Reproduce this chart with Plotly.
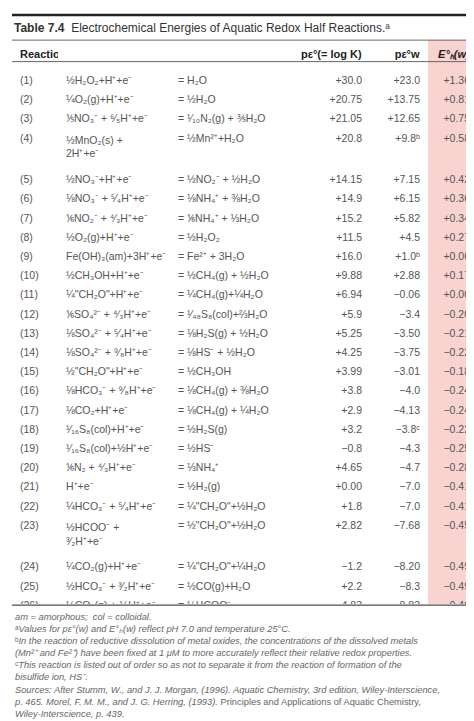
import plotly.graph_objects as go

nums = [f"({i})" for i in range(1, 28)]
lhs = ["½H₂O₂+H⁺+e⁻", "¼O₂(g)+H⁺+e⁻", "⅕NO₃⁻ + ⁶⁄₅H⁺+e⁻", "½MnO₂(s) + 2H⁺+e⁻",
       "½NO₃⁻+H⁺+e⁻", "⅛NO₃⁻ + ⁵⁄₄H⁺+e⁻", "⅙NO₂⁻ + ⁴⁄₃H⁺+e⁻", "½O₂(g)+H⁺+e⁻",
       "Fe(OH)₃(am)+3H⁺+e⁻", "½CH₃OH+H⁺+e⁻", "¼\"CH₂O\"+H⁺+e⁻", "⅙SO₄²⁻ + ⁴⁄₃H⁺+e⁻",
       "⅛SO₄²⁻ + ⁵⁄₄H⁺+e⁻", "⅛SO₄²⁻ + ⁹⁄₈H⁺+e⁻", "½\"CH₂O\"+H⁺+e⁻", "⅛HCO₃⁻ + ⁹⁄₈H⁺+e⁻",
       "⅛CO₂+H⁺+e⁻", "¹⁄₁₆S₈(col)+H⁺+e⁻", "¹⁄₁₆S₈(col)+½H⁺+e⁻", "⅙N₂ + ⁴⁄₃H⁺+e⁻",
       "H⁺+e⁻", "¼HCO₃⁻ + ⁵⁄₄H⁺+e⁻", "½HCOO⁻ + ³⁄₂H⁺+e⁻", "¼CO₂(g)+H⁺+e⁻",
       "½HCO₃⁻ + ³⁄₂H⁺+e⁻", "½CO₂(g) + ½H⁺+e⁻", "½CO₂(g)+H⁺+e⁻"]
rhs = ["= H₂O", "= ½H₂O", "= ¹⁄₁₀N₂(g) + ⅗H₂O", "= ½Mn²⁺+H₂O",
       "= ½NO₂⁻ + ½H₂O", "= ⅛NH₄⁺ + ⅜H₂O", "= ⅙NH₄⁺ + ⅓H₂O", "= ½H₂O₂",
       "= Fe²⁺ + 3H₂O", "= ½CH₄(g) + ½H₂O", "= ¼CH₄(g)+¼H₂O", "= ¹⁄₄₈S₈(col)+⅔H₂O",
       "= ⅛H₂S(g) + ½H₂O", "= ⅛HS⁻ + ½H₂O", "= ½CH₃OH", "= ⅛CH₄(g) + ⅜H₂O",
       "= ⅛CH₄(g) + ¼H₂O", "= ½H₂S(g)", "= ½HS⁻", "= ⅓NH₄⁺",
       "= ½H₂(g)", "= ¼\"CH₂O\"+½H₂O", "= ½\"CH₂O\"+½H₂O", "= ¼\"CH₂O\"+¼H₂O",
       "= ½CO(g)+H₂O", "= ½HCOO⁻", "= ½CO(g)+½H₂O"]
pe0 = ["+30.0", "+20.75", "+21.05", "+20.8", "+14.15", "+14.9", "+15.2", "+11.5", "+16.0",
       "+9.88", "+6.94", "+5.9", "+5.25", "+4.25", "+3.99", "+3.8", "+2.9", "+3.2", "−0.8",
       "+4.65", "+0.00", "+1.8", "+2.82", "−1.2", "+2.2", "−4.83", "−1.7"]
pew = ["+23.0", "+13.75", "+12.65", "+9.8ᵇ", "+7.15", "+6.15", "+5.82", "+4.5",
       "+1.0ᵇ", "+2.88", "−0.06", "−3.4", "−3.50", "−3.75", "−3.01", "−4.0", "−4.13",
       "−3.8ᶜ", "−4.3", "−4.7", "−7.0", "−7.0", "−7.68", "−8.20", "−8.3", "−8.83", "−8.7"]
eh = ["+1.36", "+0.81", "+0.75", "+0.58", "+0.42", "+0.36", "+0.34", "+0.27", "+0.06",
      "+0.17", "+0.00", "−0.20", "−0.21", "−0.22", "−0.18", "−0.24", "−0.24", "−0.22", "−0.25",
      "−0.28", "−0.41", "−0.41", "−0.45", "−0.49", "−0.49", "−0.49", "−.051"]
headers = ["<b>Reaction</b>", "", "", "<b>pε°(= log K)</b>", "<b>pε°ᵥᵥ</b>",
           "<b><i>E°ₕ(w)</i></b>"]
headers[4] = "<b>pε°w</b>"

pink = "#f9d3d0"
white = "white"
tc = "#555555"
fig = go.Figure(go.Table(
    columnwidth=[46, 112, 120, 80, 58, 50],
    header=dict(values=headers, align=["left", "left", "left", "right", "right", "right"],
                fill_color=[white, white, white, white, white, pink],
                line_color=[white]*5 + [pink], height=22,
                font=dict(family="Liberation Sans, Arial", size=11, color="#222")),
    cells=dict(values=[nums, lhs, rhs, pe0, pew, eh],
               align=["left", "left", "left", "right", "right", "right"],
               fill_color=[white, white, white, white, white, pink],
               line_color=[white]*5 + [pink], height=19.2,
               font=dict(family="Liberation Sans, Arial", size=10.5, color=tc)),
    domain=dict(x=[0, 1], y=[0.17, 0.958]),
))

fig.add_shape(type="line", xref="paper", yref="paper", x0=0, x1=1, y0=0.993, y1=0.993,
              line=dict(color="#222", width=2.5))
fig.add_shape(type="line", xref="paper", yref="paper", x0=0, x1=1, y0=0.958, y1=0.958,
              line=dict(color="#666", width=1))
fig.add_shape(type="line", xref="paper", yref="paper", x0=0, x1=1, y0=0.928, y1=0.928,
              line=dict(color="#666", width=1))
fig.add_shape(type="line", xref="paper", yref="paper", x0=0, x1=1, y0=0.17, y1=0.17,
              line=dict(color="#222", width=1))

fig.add_annotation(xref="paper", yref="paper", x=0, y=0.988, xanchor="left", yanchor="top",
                   showarrow=False, align="left",
                   text="<b>Table 7.4</b>  Electrochemical Energies of Aquatic Redox Half Reactions.ᵃ",
                   font=dict(family="Liberation Sans, Arial", size=12, color="#333"))
foot = ("<i>am</i> = <i>amorphous;  col</i> = <i>colloidal.</i><br>"
        "ᵃ<i>Values for pε°(w) and E°ₕ(w) reflect pH 7.0 and temperature 25°C.</i><br>"
        "ᵇ<i>In the reaction of reductive dissolution of metal oxides, the concentrations of the dissolved metals</i><br>"
        "<i>(Mn²⁺ and Fe²⁺) have been fixed at 1 μM to more accurately reflect their relative redox properties.</i><br>"
        "ᶜ<i>This reaction is listed out of order so as not to separate it from the reaction of formation of the</i><br>"
        "<i>bisulfide ion, HS⁻.</i><br>"
        "<i>Sources: After Stumm, W., and J. J. Morgan, (1996). Aquatic Chemistry, 3rd edition, Wiley-Interscience,</i><br>"
        "<i>p. 465. Morel, F. M. M., and J. G. Herring, (1993).</i> Principles and Applications of Aquatic Chemistry,<br>"
        "<i>Wiley-Interscience, p. 439.</i>")
fig.add_annotation(xref="paper", yref="paper", x=0, y=0.163, xanchor="left", yanchor="top",
                   showarrow=False, align="left", text=foot,
                   font=dict(family="Liberation Sans, Arial", size=9.3, color="#666"))

fig.update_layout(width=474, height=721, margin=dict(l=4, r=4, t=2, b=2),
                  paper_bgcolor="white", plot_bgcolor="white")
fig.write_html("out.html")
